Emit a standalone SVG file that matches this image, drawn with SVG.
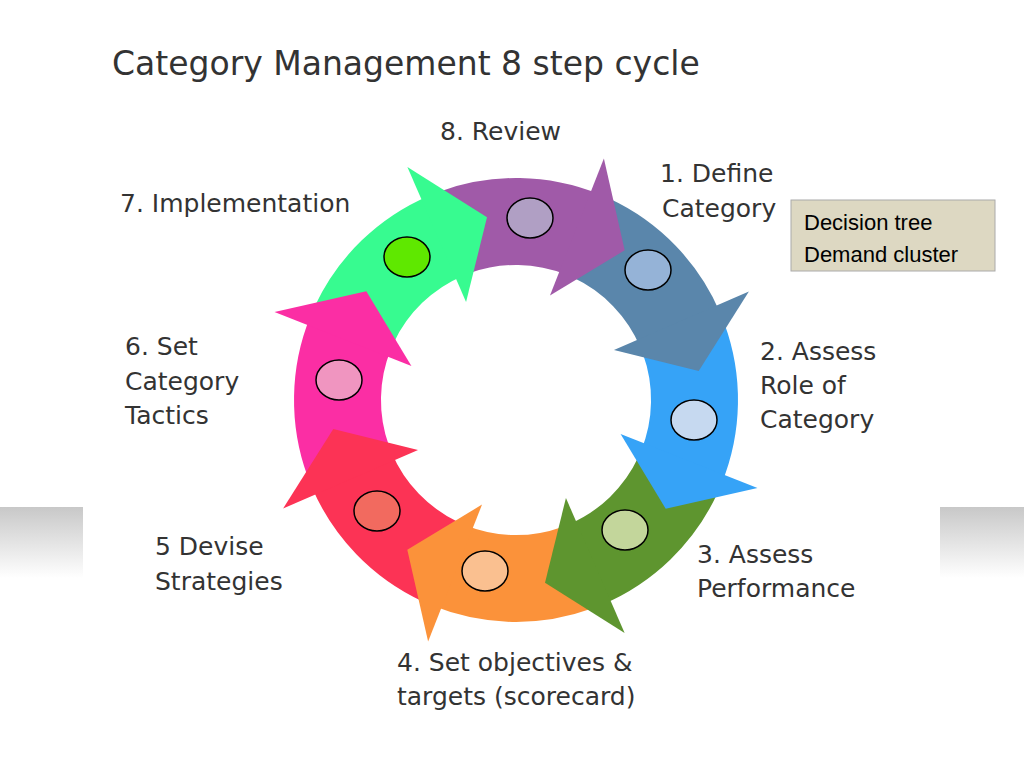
<svg xmlns="http://www.w3.org/2000/svg" width="1024" height="768" viewBox="0 0 1024 768">
<style>
.t{font-family:"DejaVu Sans",sans-serif;font-size:25px;fill:#333}
.c{stroke:#000;stroke-width:1.5}
</style>
<defs>
<linearGradient id="g" x1="0" y1="0" x2="0" y2="1"><stop offset="0" stop-color="#c8c8c8"/><stop offset="1" stop-color="#fff"/></linearGradient>
<path id="body" d="M432.8,194.2 A222,222 0 0 1 591.9,191.4 L562.2,273.1 A135,135 0 0 0 465.4,274.8 Z"/>
<path id="head" d="M595.4,155.6 L619.4,246.6 L546.3,294.3 Z"/>
</defs>
<rect width="1024" height="768" fill="#fff"/>
<rect x="0" y="507" width="83" height="71" fill="url(#g)"/>
<rect x="940" y="507" width="84" height="71" fill="url(#g)"/>
<text x="112" y="75" style="font-family:'DejaVu Sans',sans-serif;font-size:33px;fill:#333">Category Management 8 step cycle</text>
<g id="connectors">
<use href="#body" fill="#a05aa8" transform="rotate(2 516 400)"/>
<use href="#body" fill="#5a86ab" transform="rotate(47 516 400)"/>
<use href="#body" fill="#36a3f7" transform="rotate(92 516 400)"/>
<use href="#body" fill="#5e952f" transform="rotate(137 516 400)"/>
<use href="#body" fill="#fb923a" transform="rotate(182 516 400)"/>
<use href="#body" fill="#fc3355" transform="rotate(227 516 400)"/>
<use href="#body" fill="#fb2ea4" transform="rotate(272 516 400)"/>
<use href="#body" fill="#37fb90" transform="rotate(317 516 400)"/>
<use href="#head" fill="#a05aa8" transform="rotate(2 516 400)"/>
<use href="#head" fill="#5a86ab" transform="rotate(47 516 400)"/>
<use href="#head" fill="#36a3f7" transform="rotate(92 516 400)"/>
<use href="#head" fill="#5e952f" transform="rotate(137 516 400)"/>
<use href="#head" fill="#fb923a" transform="rotate(182 516 400)"/>
<use href="#head" fill="#fc3355" transform="rotate(227 516 400)"/>
<use href="#head" fill="#fb2ea4" transform="rotate(272 516 400)"/>
<use href="#head" fill="#37fb90" transform="rotate(317 516 400)"/>
</g>
<g id="step8"><ellipse class="c" cx="530" cy="218" rx="23" ry="20" fill="#b09fc4"/><text class="t" x="440" y="140">8. Review</text></g>
<g id="step1"><ellipse class="c" cx="648" cy="270" rx="23" ry="20" fill="#95b3d7"/><text class="t" x="660" y="182">1. Define</text><text class="t" x="662" y="217">Category</text></g>
<g id="step2"><ellipse class="c" cx="694" cy="420" rx="23" ry="20" fill="#c6d9f0"/><text class="t" x="760" y="360">2. Assess</text><text class="t" x="760" y="394">Role of</text><text class="t" x="760" y="428">Category</text></g>
<g id="step3"><ellipse class="c" cx="625" cy="530" rx="23" ry="20" fill="#c3d69b"/><text class="t" x="697" y="563">3. Assess</text><text class="t" x="697" y="597">Performance</text></g>
<g id="step4"><ellipse class="c" cx="485" cy="571" rx="23" ry="20" fill="#fac090"/><text class="t" x="397" y="671">4. Set objectives &amp;</text><text class="t" x="397" y="705">targets (scorecard)</text></g>
<g id="step5"><ellipse class="c" cx="377" cy="511" rx="23" ry="20" fill="#f26a5f"/><text class="t" x="155" y="555">5 Devise</text><text class="t" x="155" y="590">Strategies</text></g>
<g id="step6"><ellipse class="c" cx="339" cy="380" rx="23" ry="20" fill="#f095c0"/><text class="t" x="125" y="355">6. Set</text><text class="t" x="125" y="390">Category</text><text class="t" x="125" y="424">Tactics</text></g>
<g id="step7"><ellipse class="c" cx="407" cy="257" rx="23" ry="20" fill="#5fe800"/><text class="t" x="120" y="212">7. Implementation</text></g>
<g id="note"><rect x="791" y="200" width="204" height="71" fill="#ddd8c2" stroke="#aaa"/><text x="804" y="230" style="font-family:'Liberation Sans',sans-serif;font-size:22px">Decision tree</text><text x="804" y="262" style="font-family:'Liberation Sans',sans-serif;font-size:22px">Demand cluster</text></g>
</svg>
